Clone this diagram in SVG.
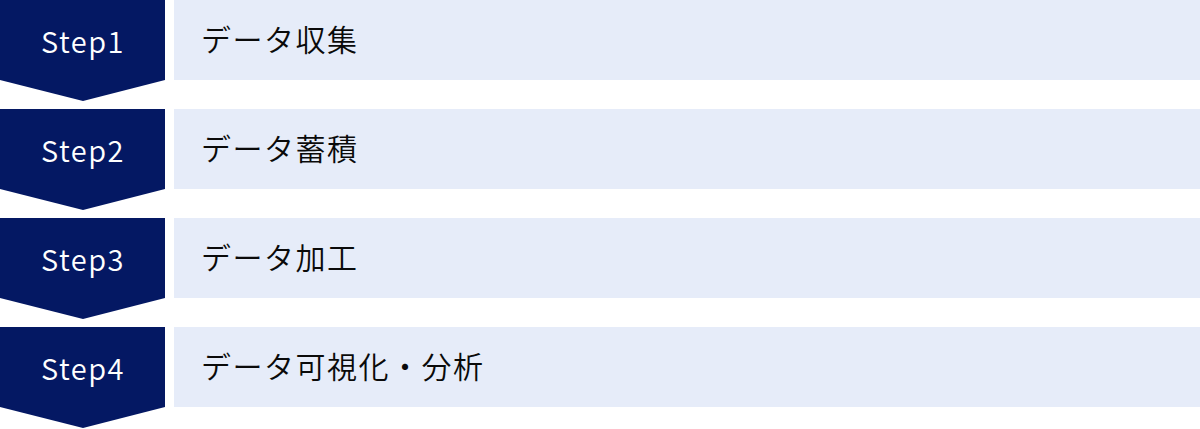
<svg xmlns="http://www.w3.org/2000/svg" width="1200" height="429" viewBox="0 0 1200 429">
  <defs>
    <style>
      .chev { fill: #041863; }
      .box { fill: #E6ECF9; }
      .step { font-family: "Noto Sans CJK JP", "Noto Sans", sans-serif; font-size: 29px; font-weight: 350; fill: #FFFFFF; text-anchor: middle; letter-spacing: 1.5px; }
      .label { font-family: "Noto Sans CJK JP", sans-serif; font-size: 30px; font-weight: 350; fill: #0A0A0A; letter-spacing: 1.5px; }
    </style>
    <path id="chevron" d="M0 0 H165 V80 L83 101 L0 80 Z"/>
  </defs>
  <g id="connectors"></g>
  <g id="step1" transform="translate(0,0)">
    <use href="#chevron" class="chev"/>
    <rect class="box" x="174" y="0" width="1026" height="80"/>
    <text class="step" x="83" y="53">Step1</text>
    <text class="label" x="201" y="51">データ収集</text>
  </g>
  <g id="step2" transform="translate(0,109)">
    <use href="#chevron" class="chev"/>
    <rect class="box" x="174" y="0" width="1026" height="80"/>
    <text class="step" x="83" y="53">Step2</text>
    <text class="label" x="201" y="51">データ蓄積</text>
  </g>
  <g id="step3" transform="translate(0,218)">
    <use href="#chevron" class="chev"/>
    <rect class="box" x="174" y="0" width="1026" height="80"/>
    <text class="step" x="83" y="53">Step3</text>
    <text class="label" x="201" y="51">データ加工</text>
  </g>
  <g id="step4" transform="translate(0,327)">
    <use href="#chevron" class="chev"/>
    <rect class="box" x="174" y="0" width="1026" height="80"/>
    <text class="step" x="83" y="53">Step4</text>
    <text class="label" x="201" y="51">データ可視化・分析</text>
  </g>
</svg>
